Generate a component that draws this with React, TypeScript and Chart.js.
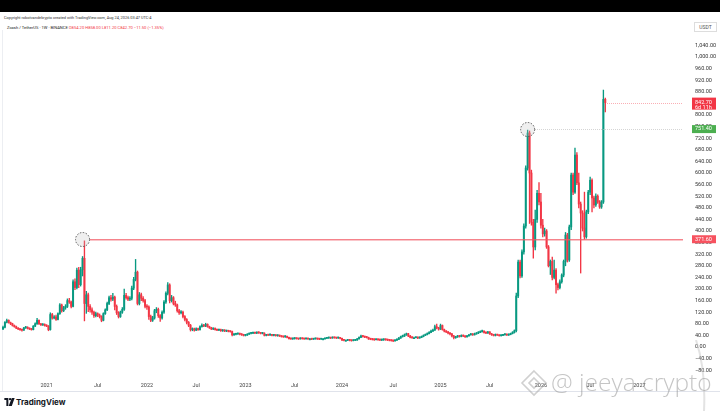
import React, { useEffect, useRef } from 'react';
import { Chart, registerables } from 'chart.js';

Chart.register(...registerables);

// ---- Data (weekly ZEC/USDT candles) ----
const FIRST_OPEN = 62;
const closes = [
  68, 85, 92, 84, 80, 74, 70, 65, 62, 60,
  58, 66, 68, 64, 62, 60, 72, 80, 92, 80,
  76, 78, 74, 72, 60, 112, 100, 104, 95, 115,
  145, 125, 135, 140, 160, 155, 140, 225, 205, 265,
  215, 266, 306, 150, 180, 140, 128, 120, 108, 115,
  110, 105, 92, 115, 128, 150, 170, 165, 172, 140,
  118, 105, 120, 130, 178, 170, 165, 168, 203, 233,
  258, 150, 180, 168, 160, 140, 138, 105, 92, 100,
  125, 130, 108, 100, 120, 155, 185, 214, 160, 170,
  150, 145, 125, 118, 120, 105, 95, 85, 75, 60,
  62, 58, 63, 60, 70, 75, 72, 78, 70, 66,
  62, 64, 60, 58, 60, 56, 58, 55, 56, 54,
  53, 42, 44, 45, 46, 44, 42, 40, 41, 44,
  47, 48, 49, 48, 50, 49, 47, 48, 40, 42,
  41, 43, 40, 42, 39, 40, 38, 36, 35, 37,
  33, 29, 28, 29, 30, 29, 28, 30, 29, 28,
  29, 28, 28, 27, 28, 29, 28, 27, 28, 28,
  30, 31, 32, 31, 33, 32, 31, 32, 30, 24,
  23, 23, 24, 23, 22, 23, 24, 28, 33, 38,
  36, 34, 33, 28, 27, 26, 25, 26, 25, 24,
  25, 26, 25, 24, 23, 22, 21, 24, 26, 31,
  36, 38, 42, 46, 38, 33, 32, 32, 33, 31,
  33, 36, 40, 43, 46, 50, 55, 58, 70, 66,
  62, 74, 60, 55, 52, 48, 45, 38, 32, 35,
  38, 36, 40, 38, 35, 38, 42, 44, 42, 45,
  48, 50, 53, 55, 50, 48, 52, 45, 42, 40,
  43, 41, 39, 40, 42, 44, 41, 43, 46, 50,
  56, 176, 293, 245, 328, 417, 617, 738, 600, 430,
  345, 440, 530, 500, 420, 390, 400, 345, 280, 295,
  240, 265, 215, 205, 225, 248, 295, 386, 300, 414,
  593, 534, 662, 566, 493, 462, 410, 380, 466, 534,
  575, 514, 490, 520, 500, 483, 500, 854, 842.7,
];
const highs = [
  72, 88, 96, 94, 86, 82, 76, 72, 67, 64,
  62, 68, 71, 70, 66, 64, 74, 83, 99, 94,
  82, 81, 80, 77, 74, 118, 116, 108, 110, 118,
  150, 148, 140, 146, 166, 168, 158, 232, 235, 272,
  275, 275, 312, 366, 192, 186, 146, 135, 124, 120,
  118, 114, 108, 118, 132, 155, 176, 178, 185, 176,
  145, 122, 124, 136, 200, 185, 176, 174, 210, 240,
  302, 262, 188, 186, 174, 164, 146, 142, 110, 106,
  130, 136, 134, 112, 125, 160, 190, 222, 218, 178,
  174, 158, 148, 130, 126, 124, 108, 98, 88, 78,
  66, 65, 66, 65, 73, 80, 78, 82, 80, 72,
  68, 66, 66, 62, 62, 62, 60, 60, 58, 58,
  56, 55, 46, 47, 48, 48, 46, 44, 43, 46,
  49, 50, 51, 51, 52, 52, 50, 50, 49, 44,
  44, 45, 44, 44, 43, 42, 41, 39, 38, 39,
  38, 34, 31, 31, 32, 31, 30, 32, 31, 30,
  31, 30, 30, 29, 30, 31, 30, 29, 30, 30,
  31, 33, 34, 33, 35, 34, 33, 34, 33, 31,
  26, 25, 25, 25, 24, 25, 26, 30, 35, 41,
  40, 38, 36, 34, 30, 29, 28, 28, 28, 27,
  27, 28, 28, 27, 26, 25, 24, 26, 28, 33,
  38, 41, 45, 48, 47, 40, 35, 34, 35, 35,
  35, 38, 42, 45, 49, 53, 58, 62, 76, 79,
  68, 79, 76, 62, 57, 54, 50, 47, 40, 37,
  40, 40, 42, 41, 39, 40, 44, 47, 46, 48,
  50, 53, 56, 58, 56, 52, 54, 53, 47, 44,
  45, 44, 42, 42, 44, 46, 45, 45, 48, 53,
  59, 186, 300, 300, 335, 425, 625, 748, 745, 610,
  440, 472, 540, 567, 530, 440, 410, 405, 350, 300,
  310, 300, 270, 220, 232, 252, 300, 395, 392, 420,
  600, 600, 686, 670, 600, 500, 470, 534, 472, 540,
  586, 580, 520, 528, 525, 505, 505, 886, 858,
];
const lows = [
  60, 66, 83, 82, 77, 72, 68, 63, 60, 57,
  55, 57, 64, 62, 60, 58, 59, 70, 78, 78,
  74, 74, 72, 70, 56, 58, 96, 97, 92, 93,
  112, 120, 122, 130, 136, 150, 135, 138, 198, 200,
  205, 210, 245, 90, 116, 122, 120, 112, 102, 104,
  105, 100, 87, 90, 112, 125, 146, 158, 160, 128,
  112, 100, 102, 116, 126, 165, 160, 160, 162, 198,
  228, 145, 145, 160, 155, 135, 130, 95, 87, 88,
  96, 118, 102, 88, 96, 116, 150, 180, 152, 155,
  145, 140, 120, 112, 114, 100, 90, 80, 70, 55,
  56, 55, 56, 57, 58, 68, 70, 70, 68, 64,
  60, 60, 58, 56, 56, 54, 54, 53, 53, 52,
  51, 38, 40, 42, 43, 42, 40, 38, 38, 40,
  43, 45, 46, 46, 46, 47, 45, 45, 38, 38,
  39, 40, 38, 38, 37, 37, 36, 34, 33, 33,
  31, 27, 26, 26, 27, 27, 26, 27, 27, 26,
  27, 26, 26, 25, 26, 27, 26, 25, 26, 26,
  27, 29, 30, 29, 30, 30, 29, 30, 28, 22,
  21, 21, 22, 21, 20, 21, 22, 23, 27, 32,
  34, 32, 31, 26, 25, 24, 23, 24, 23, 22,
  22, 23, 23, 22, 21, 20, 18, 20, 22, 25,
  30, 34, 36, 40, 36, 31, 30, 30, 31, 29,
  30, 32, 35, 39, 42, 45, 49, 53, 57, 62,
  58, 60, 58, 52, 49, 45, 42, 35, 28, 30,
  33, 34, 35, 36, 33, 34, 37, 41, 40, 41,
  44, 46, 49, 51, 48, 46, 47, 43, 40, 38,
  38, 40, 37, 37, 39, 41, 40, 40, 42, 45,
  48, 52, 170, 238, 240, 320, 410, 610, 426, 420,
  306, 335, 430, 490, 410, 380, 382, 340, 276, 250,
  231, 235, 186, 197, 200, 220, 242, 280, 293, 295,
  405, 525, 530, 560, 480, 255, 400, 372, 375, 460,
  525, 466, 480, 485, 495, 478, 478, 495, 811,
];

const yTickValues = [
  -80, -40, 0, 40, 80, 120, 160, 200, 240, 280, 320, 360, 400, 440, 480, 520,
  560, 600, 640, 680, 720, 760, 800, 840, 880, 920, 960, 1000, 1040,
];
const xTickWeeks = [23, 50, 76, 102, 128, 154, 179, 206, 231, 257, 284, 310, 336];
const xTickLabels = ['2021', 'Jul', '2022', 'Jul', '2023', 'Jul', '2024', 'Jul', '2025', 'Jul', '2026', 'Jul', '2027'];

const level2021 = { week: 42, price: 371.6, tag: '371.60' };
const level2025 = { week: 277, price: 751.4, tag: '751.40' };
const lastTag = ['842.70', '6d 11h'];

const UP = '#089981';
const DOWN = '#F23645';

const opens = closes.map((c, i) => (i === 0 ? FIRST_OPEN : closes[i - 1]));

const fmt = (v: number) =>
  (v < 0 ? '\u2212' : '') +
  Math.abs(v).toLocaleString('en-US', { minimumFractionDigits: 2, maximumFractionDigits: 2 });

function hLine(ctx: any, x0: number, x1: number, y: number, color: string, dash = 0, h = 1) {
  ctx.fillStyle = color;
  const yy = Math.round(y);
  if (!dash) {
    ctx.fillRect(Math.round(x0), yy, Math.round(x1 - x0), h);
    return;
  }
  for (let px = Math.round(x0); px < x1; px += dash * 2) {
    ctx.fillRect(px, yy, Math.min(dash, x1 - px), h);
  }
}

const overlayPlugin = {
  id: 'overlay',
  afterDatasetsDraw(chart: any) {
    const { ctx, chartArea, scales } = chart;
    const x = scales.x;
    const y = scales.y;
    ctx.save();
    const c1x = x.getPixelForValue(level2021.week);
    const c1y = y.getPixelForValue(level2021.price);
    hLine(ctx, c1x + 7, chartArea.right, c1y - 0.5, 'rgba(242,90,100,0.75)', 0, 1);
    hLine(ctx, c1x + 7, chartArea.right, c1y + 0.5, 'rgba(242,90,100,0.35)', 0, 1);
    const c2x = x.getPixelForValue(level2025.week);
    const c2y = y.getPixelForValue(level2025.price);
    hLine(ctx, c2x + 7, chartArea.right, c2y, 'rgba(185,185,185,0.6)', 1);
    const lastIdx = closes.length - 1;
    const lpY = y.getPixelForValue(closes[lastIdx]);
    hLine(ctx, x.getPixelForValue(lastIdx) + 2, chartArea.right, lpY, 'rgba(242,54,69,0.4)', 1);
    ctx.setLineDash([1.5, 1.5]);
    ctx.lineWidth = 1;
    ctx.strokeStyle = '#555';
    ctx.fillStyle = 'rgba(190,190,190,0.25)';
    for (const [cx, cy] of [[c1x, Math.round(c1y) + 0.5], [c2x, Math.round(c2y) + 0.5]]) {
      ctx.beginPath();
      ctx.arc(cx, cy, 7, 0, Math.PI * 2);
      ctx.fill();
      ctx.stroke();
    }
    ctx.restore();
  },
  afterDraw(chart: any) {
    const { ctx, chartArea, scales } = chart;
    const y = scales.y;
    ctx.save();
    ctx.font = '5.5px Roboto, sans-serif';
    ctx.textBaseline = 'middle';
    ctx.textAlign = 'left';
    const bx = chartArea.right + 9;
    const bw = 24;
    const lp = y.getPixelForValue(closes[closes.length - 1]);
    ctx.fillStyle = DOWN;
    ctx.fillRect(bx, lp - 5, bw, 12);
    ctx.fillStyle = '#fff';
    ctx.fillText(lastTag[0], bx + 3, lp);
    ctx.fillText(lastTag[1], bx + 3, lp + 5);
    const g = y.getPixelForValue(level2025.price);
    ctx.fillStyle = '#4CAF50';
    ctx.fillRect(bx, g - 4, bw, 8);
    ctx.fillStyle = '#fff';
    ctx.fillText(level2025.tag, bx + 3, g);
    const r = y.getPixelForValue(level2021.price);
    ctx.fillStyle = '#F7525F';
    ctx.fillRect(bx, r - 4, bw, 8);
    ctx.fillStyle = '#fff';
    ctx.fillText(level2021.tag, bx + 3, r);
    ctx.restore();
  },
};

function CandleChart() {
  const ref = useRef<HTMLCanvasElement | null>(null);
  useEffect(() => {
    if (!ref.current) return;
    const colors = closes.map((c, i) => (c >= opens[i] ? UP : DOWN));
    const chart = new Chart(ref.current, {
      type: 'bar',
      data: {
        datasets: [
          {
            label: 'wicks',
            data: closes.map((_, i) => ({ x: i, y: [lows[i], highs[i]] })) as any,
            backgroundColor: colors,
            barThickness: 0.7,
            grouped: false,
            order: 2,
          } as any,
          {
            label: 'bodies',
            data: closes.map((c, i) => ({ x: i, y: [opens[i], c] })) as any,
            backgroundColor: colors,
            barThickness: 1.3,
            minBarLength: 1,
            grouped: false,
            order: 1,
          } as any,
        ],
      },
      options: {
        animation: false,
        responsive: false,
        maintainAspectRatio: false,
        layout: { padding: 0 },
        plugins: { legend: { display: false }, tooltip: { enabled: false } },
        scales: {
          x: {
            type: 'linear',
            min: -1.584,
            max: 359.03,
            offset: false,
            grid: { display: false, drawTicks: false },
            border: { display: false },
            afterBuildTicks: (s: any) => {
              s.ticks = xTickWeeks.map((v) => ({ value: v }));
            },
            afterFit: (s: any) => {
              s.height = 13;
              s.paddingLeft = 0;
              s.paddingRight = 0;
              s.paddingTop = 0;
              s.paddingBottom = 0;
            },
            ticks: {
              padding: 4,
              maxRotation: 0,
              autoSkip: false,
              color: '#444',
              font: { size: 5.5, family: 'Roboto, sans-serif' },
              callback: (_v: any, i: number) => xTickLabels[i],
            },
          },
          y: {
            type: 'linear',
            position: 'right',
            min: -106.9,
            max: 1093.1,
            grid: { display: false, drawTicks: false },
            border: { display: false },
            afterBuildTicks: (s: any) => {
              s.ticks = yTickValues.map((v) => ({ value: v }));
            },
            afterFit: (s: any) => {
              s.width = 37;
              s.paddingTop = 0;
              s.paddingBottom = 0;
              s.paddingLeft = 0;
              s.paddingRight = 0;
            },
            ticks: {
              padding: 12,
              color: '#333',
              font: { size: 5.5, family: 'Roboto, sans-serif' },
              callback: (v: any) => fmt(Number(v)),
            },
          },
        },
      } as any,
      plugins: [overlayPlugin],
    });
    return () => chart.destroy();
  }, []);
  return <canvas ref={ref} width={720} height={361} style={{ position: 'absolute', left: 0, top: 30, width: 720, height: 361 }} />;
}

export default function App() {
  useEffect(() => {
    document.body.style.margin = '0';
  }, []);
  const small: React.CSSProperties = { position: 'absolute', fontFamily: 'Roboto, sans-serif', whiteSpace: 'nowrap', lineHeight: '6px' };
  return (
    <div style={{ position: 'relative', width: 720, height: 411, background: '#fff', overflow: 'hidden' }}>
      <div style={{ position: 'absolute', left: 0, top: 0, width: 720, height: 12, background: '#000' }} />
      <div style={{ ...small, left: 4, top: 15, fontSize: 3.9, color: '#333' }}>
        Copyright robotvandekrypto created with TradingView.com, Aug 24, 2026 03:47 UTC-4
      </div>
      <div style={{ ...small, left: 7, top: 24.5, fontSize: 4.1, color: '#222' }}>
        Zcash / TetherUS · 1W · BINANCE{' '}
        <span style={{ color: DOWN }}>O854.20 H858.00 L811.20 C842.70 −11.50 (−1.35%)</span>
      </div>
      <div style={{ position: 'absolute', left: 694, top: 22, width: 21, height: 8, border: '1px solid #ddd', fontFamily: 'Roboto, sans-serif', fontSize: 5, lineHeight: '8px', textAlign: 'center', color: '#555' }}>
        USDT
      </div>
      <div style={{ position: 'absolute', left: 2, top: 30, width: 1, height: 361, background: '#eceef2' }} />
      <CandleChart />
      <div style={{ position: 'absolute', left: 0, top: 391, width: 720, height: 1, background: '#e0e3eb' }} />
      <svg style={{ position: 'absolute', left: 4, top: 398 }} width={11} height={8} viewBox="0 0 36 28">
        <path d="M0 0 H14 V28 H7 V7 H0 Z" fill="#131722" />
        <circle cx="20" cy="4" r="4" fill="#131722" />
        <path d="M26 0 H36 L26 28 H15 Z" fill="#131722" />
      </svg>
      <div style={{ position: 'absolute', left: 16, top: 396.5, fontFamily: 'Inter, Roboto, sans-serif', fontWeight: 700, fontSize: 8, color: '#131722', whiteSpace: 'nowrap' }}>
        TradingView
      </div>
      <svg style={{ position: 'absolute', left: 520, top: 369 }} width={28} height={28} viewBox="0 0 28 28">
        <g fill="none" stroke="rgba(170,170,170,0.55)" strokeWidth="1.6">
          <path d="M14 2 L26 14 L14 26 L2 14 Z" />
          <path d="M14 9 L19 14 L14 19 L9 14 Z" />
        </g>
      </svg>
      <svg style={{ position: 'absolute', left: 690, top: 340 }} width={20} height={71} viewBox="0 0 20 71">
        <path d="M6 0 Q16 30 14 71" fill="none" stroke="rgba(200,200,200,0.5)" strokeWidth="2" />
      </svg>
      <div style={{ position: 'absolute', left: 551, top: 365, fontFamily: '"Open Sans", sans-serif', fontWeight: 300, fontSize: 24.5, color: 'rgba(140,140,140,0.5)', whiteSpace: 'nowrap' }}>
        @ jeeya crypto
      </div>
    </div>
  );
}
